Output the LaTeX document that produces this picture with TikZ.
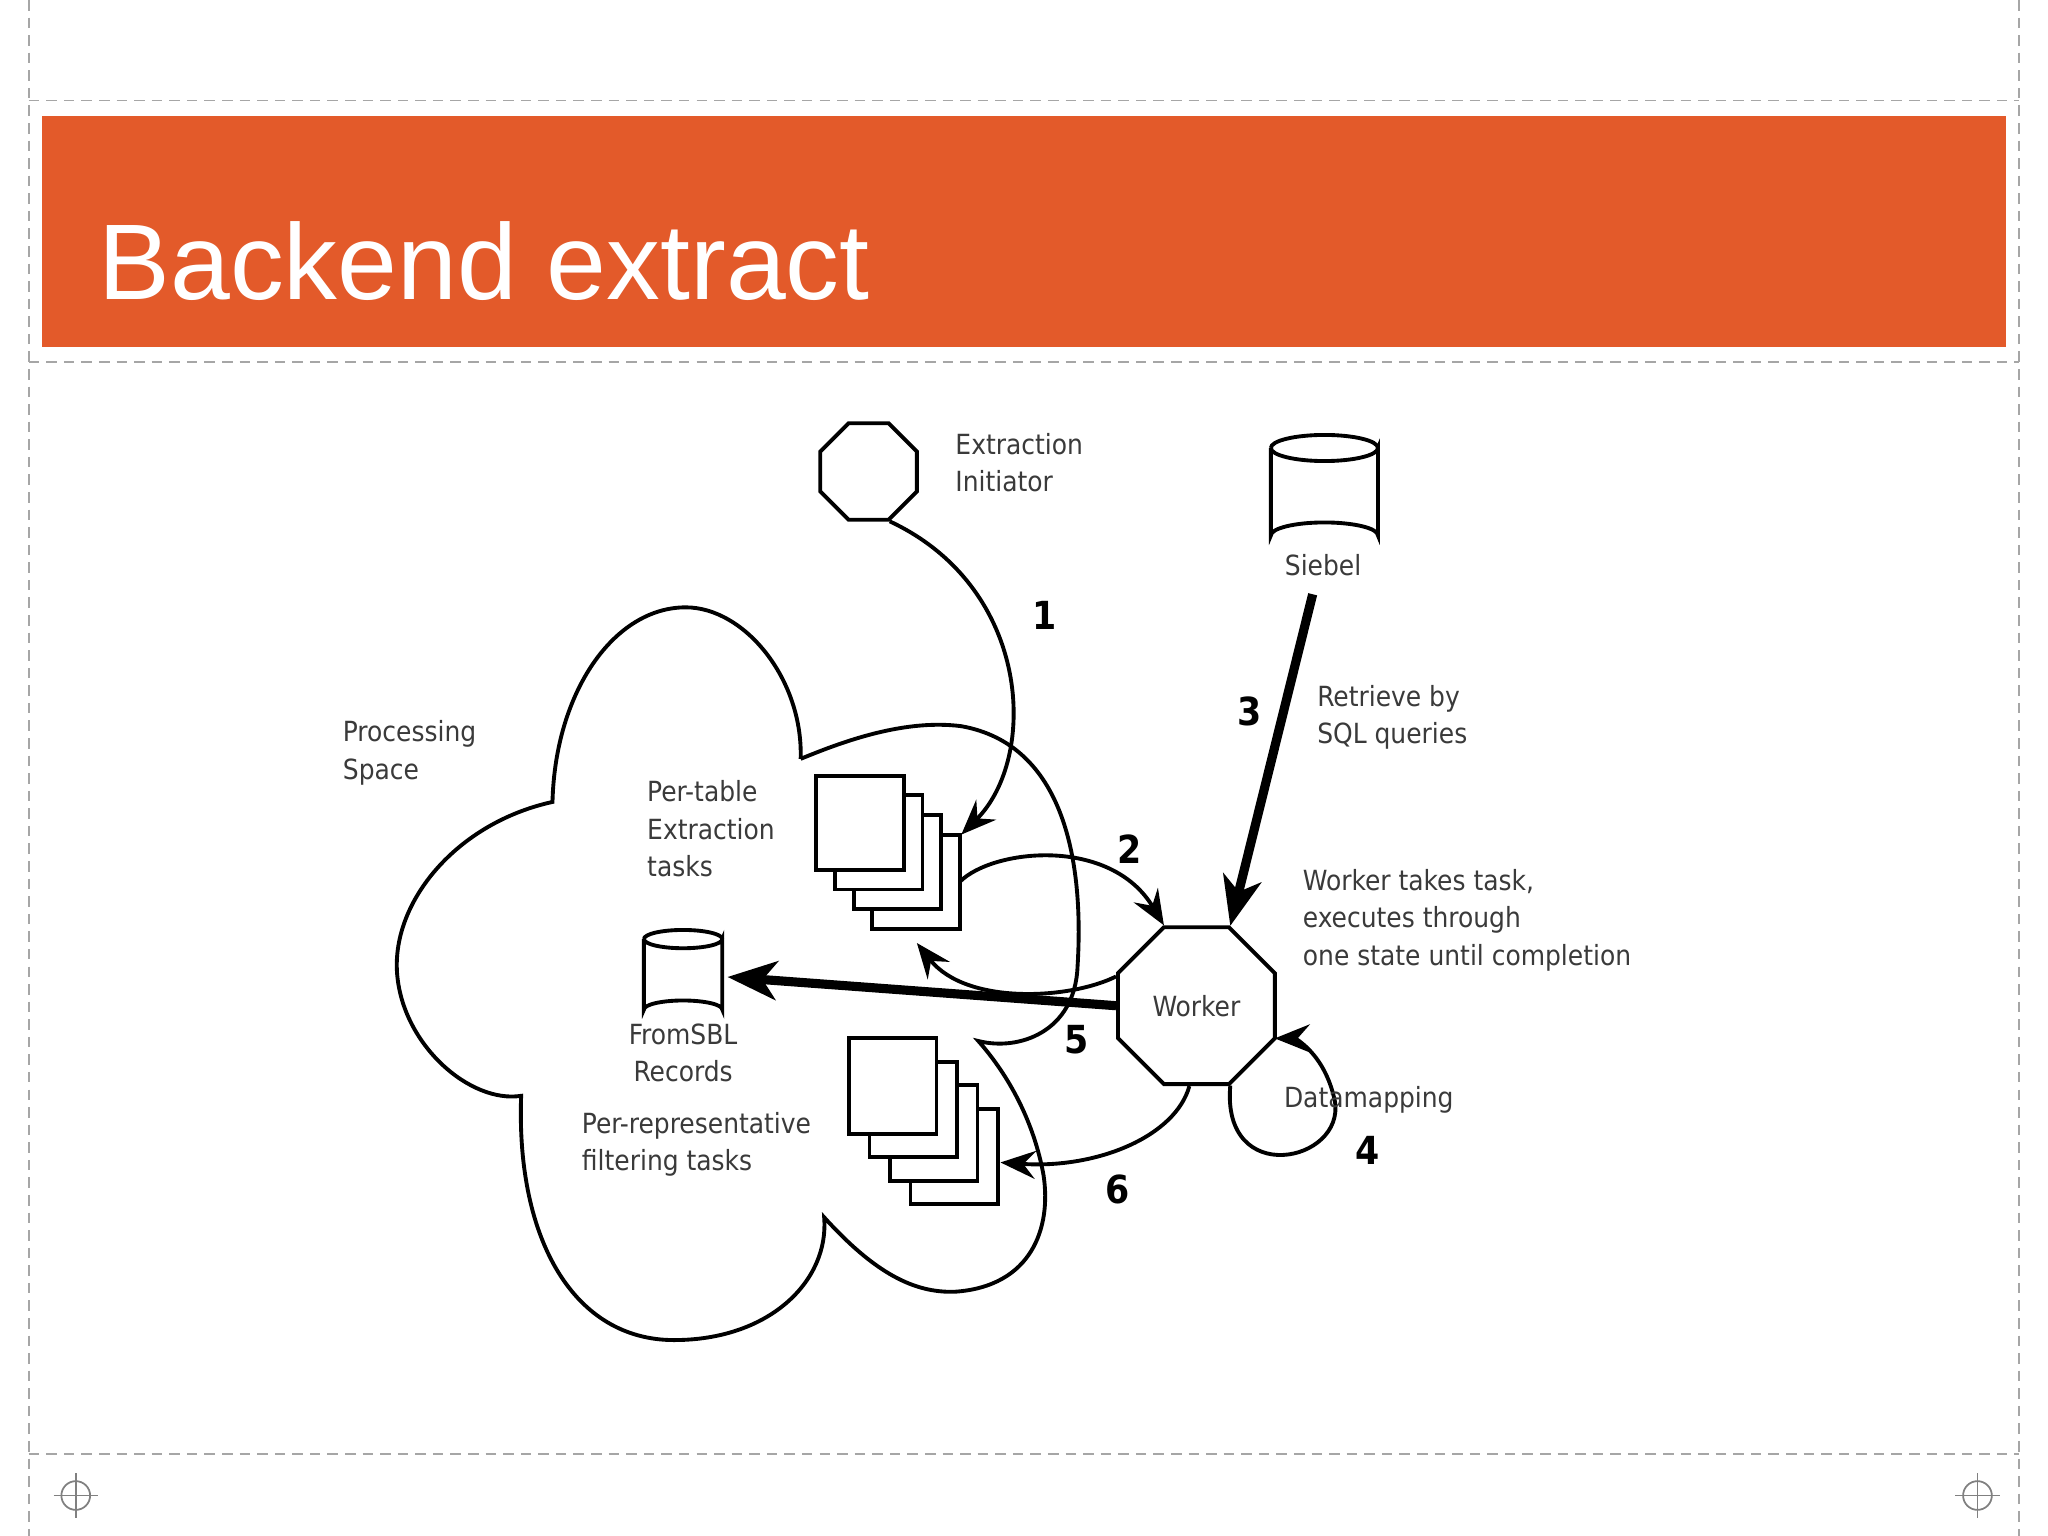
\documentclass[tikz,border=0pt]{standalone}
\usepackage{fontspec}
\setmainfont{Liberation Sans}
\newfontfamily\djvfont{DejaVu Sans Condensed}
\usetikzlibrary{shapes.geometric,arrows.meta}
\definecolor{orng}{HTML}{E35A2A}
\definecolor{txt}{HTML}{3A3A3A}
\begin{document}
\begin{tikzpicture}[x=0.013061cm,y=-0.013061cm,
  frame/.style={gray!70,densely dashed,line width=0.5pt},
  ln/.style={line width=1.1pt,black},
  arr/.style={ln,-{Stealth[length=10pt,width=8pt,inset=3.5pt]}},
  thk/.style={line width=2.6pt,-{Stealth[length=14pt,width=11pt,inset=4pt]}},
  lbl/.style={font=\djvfont\fontsize{7.9}{10.7}\selectfont,text=txt,inner sep=0pt,align=left},
  num/.style={font=\djvfont\bfseries\fontsize{11}{12}\selectfont,inner sep=0pt},
  oct/.style={regular polygon,regular polygon sides=8,draw,ln,fill=white,inner sep=0pt},
  page/.style={draw,ln,fill=white}]
\useasboundingbox (0,0) rectangle (1568,1176);
% frame
\draw[frame] (22,0) -- (22,1176);
\draw[frame] (1546,0) -- (1546,1176);
\draw[frame] (22,77) -- (1546,77);
\draw[frame] (22,277) -- (1546,277);
\draw[frame] (22,1113) -- (1546,1113);
\foreach \cx in {58,1514}{
  \draw[gray,line width=0.5pt] (\cx,1145) circle[radius=11];
  \draw[gray,line width=0.5pt] (\cx-17,1145) -- (\cx+17,1145) (\cx,1128) -- (\cx,1162);}
% title
\fill[orng] (32,89) rectangle (1536,266);
\node[anchor=base west,text=white,inner sep=0pt,font=\fontsize{30.6}{34}\selectfont] (title) at (75,229) {Backend extract};
% cloud
\draw[ln] (613,581) .. controls (615,520) and (570,465) .. (525,465)
  .. controls (470,465) and (425,530) .. (423,614)
  .. controls (350,630) and (300,690) .. (304,745)
  .. controls (308,800) and (360,845) .. (399,839)
  .. controls (395,950) and (440,1026) .. (516,1026)
  .. controls (590,1026) and (635,980) .. (631,932)
  .. controls (670,975) and (700,990) .. (731,989)
  .. controls (790,985) and (805,940) .. (799,900)
  .. controls (790,850) and (765,815) .. (749,797)
  .. controls (780,805) and (823,790) .. (825,740)
  .. controls (830,660) and (815,570) .. (736,556)
  .. controls (690,550) and (640,570) .. (613,581);
\node[lbl,anchor=north west] (ps) at (262,551) {Processing\\Space};
% top stack
\foreach \i in {3,2,1,0}{
  \draw[page] (625+14.3*\i,594+15*\i) rectangle +(67,72);}
\coordinate (st1r) at (735,675);
\coordinate (st1a) at (736,639);
\coordinate (st1b) at (702,722);
\node[lbl,anchor=north west] (pt) at (495,597) {Per-table\\Extraction\\tasks};
% bottom stack
\foreach \i in {3,2,1,0}{
  \draw[page] (650+15.7*\i,795+18*\i) rectangle +(67,73);}
\coordinate (st2a) at (766,890);
\node[lbl,anchor=north west] (pr) at (445,851) {Per-representative\\filtering tasks};
% FromSBL cylinder
\draw[ln,fill=white] (493,719) -- (493,773) arc[start angle=180,end angle=360,x radius=30,y radius=7] -- (553,719) arc[start angle=0,end angle=180,x radius=30,y radius=7];
\draw[ln] (493,719) arc[start angle=180,end angle=360,x radius=30,y radius=7];
\coordinate (fsbl) at (557,748);
\node[lbl,align=center,anchor=north] (fs) at (523,783) {FromSBL\\Records};
% Siebel cylinder
\draw[ln,fill=white] (973,343) -- (973,410) arc[start angle=180,end angle=360,x radius=41,y radius=10] -- (1055,343) arc[start angle=0,end angle=180,x radius=41,y radius=10];
\draw[ln] (973,343) arc[start angle=180,end angle=360,x radius=41,y radius=10];
\node[lbl] (sb) at (1013,433) {Siebel};
\coordinate (sbb) at (1005,455);
% initiator
\node[oct,minimum size=1.045cm] (ini) at (665,361) {};
\node[lbl,anchor=north west] (init) at (731,331) {Extraction\\Initiator};
% worker
\node[oct,minimum size=1.698cm,font=\djvfont\fontsize{7.9}{9}\selectfont,text=txt] (w) at (916,770) {Worker};
\node[lbl,anchor=north west] (wt) at (997,665) {Worker takes task,\\executes through\\one state until completion};
% arrows
\draw[arr] (ini.-67.5) .. controls (790,450) and (795,580) .. (st1a);
\draw[thk] (sbb) -- (w.67.5);
\draw[arr] (st1r) .. controls (760,650) and (850,640) .. (w.112.5);
\draw[arr] (w.160) .. controls (820,765) and (740,770) .. (st1b);
\draw[thk] (w.west) -- (fsbl);
\draw[arr] (w.-67.5) .. controls (935,910) and (1030,890) .. (1022,843) .. controls (1014,805) and (990,795) .. (976,795);
\draw[arr] (w.-95) .. controls (900,870) and (840,895) .. (st2a);
\node[lbl] (dm) at (1048,842) {Datamapping};
\node[num] (n1) at (800,471) {1};
\node[num] (n2) at (865,650) {2};
\node[num] (n3) at (957,545) {3};
\node[num] (n4) at (1047,881) {4};
\node[num] (n5) at (824,796) {5};
\node[num] (n6) at (856,911) {6};
\node[lbl,anchor=north west] (rb) at (1008,524) {Retrieve by\\SQL queries};
\end{tikzpicture}
\end{document}
